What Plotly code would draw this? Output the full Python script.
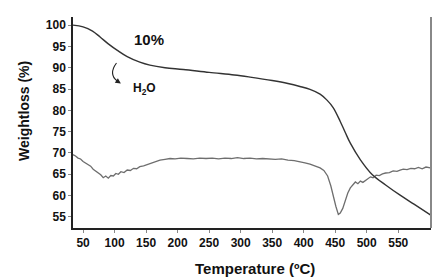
import plotly.graph_objects as go

# TGA curve (weight loss %)
tga_T = [34, 50, 65, 77, 90, 105, 120, 140, 156, 180, 209, 250, 290, 315, 350, 375, 394, 410, 426, 437, 447, 458, 466, 474, 490, 509, 530, 553, 575, 601]
tga_W = [100.0, 99.6, 98.6, 97.2, 95.6, 94.0, 92.6, 91.3, 90.6, 90.0, 89.6, 88.9, 88.3, 87.8, 87.0, 86.3, 85.6, 84.9, 83.8, 82.4, 80.6, 77.4, 74.8, 72.3, 68.4, 64.9, 62.5, 60.1, 58.0, 55.5]

# DTG-like signal (noisy gray trace)
dtg_T = [34, 38, 42, 46, 50, 54, 58, 62, 66, 70, 74, 78, 82, 86, 90, 94, 98, 102, 106, 110, 115, 120, 125, 130, 135, 140, 146, 152, 158, 165, 172, 180, 188, 196, 205, 215, 225, 235, 245, 255, 265, 275, 285, 295, 305, 315, 325, 335, 345, 355, 365, 375, 385, 394, 402, 410, 418, 426, 432, 438, 443, 447, 451, 455, 458, 462, 466, 470, 474, 478, 482, 486, 490, 494, 498, 502, 506, 510, 515, 520, 525, 530, 536, 542, 548, 553, 558, 564, 570, 576, 582, 588, 594, 601]
dtg_V = [69.6, 69.3, 68.8, 68.6, 68.0, 67.6, 67.1, 66.9, 66.2, 65.8, 65.2, 64.9, 64.2, 64.6, 64.1, 64.7, 64.6, 65.2, 65.0, 65.6, 65.4, 66.0, 65.9, 66.4, 66.3, 66.8, 67.0, 67.3, 67.6, 67.9, 68.3, 68.5, 68.7, 68.6, 68.8, 68.7, 68.6, 68.8, 68.7, 68.8, 68.6, 68.8, 68.7, 68.9, 68.7, 68.8, 68.6, 68.7, 68.6, 68.5, 68.6, 68.3, 68.2, 68.0, 67.7, 67.4, 66.9, 66.5, 65.9, 64.6, 62.3, 59.8, 57.5, 55.6, 55.9, 57.0, 58.9, 60.6, 61.8, 62.6, 63.2, 62.8, 63.4, 63.1, 63.6, 63.9, 64.4, 64.2, 64.8, 64.7, 65.1, 65.3, 65.4, 65.8, 65.7, 66.0, 66.2, 66.1, 66.4, 66.3, 66.6, 66.3, 66.7, 66.5]

x_ticks = [50, 100, 150, 200, 250, 300, 350, 400, 450, 500, 550]
y_ticks = [55, 60, 65, 70, 75, 80, 85, 90, 95, 100]

fig = go.Figure()
fig.add_trace(go.Scatter(x=dtg_T, y=dtg_V, mode="lines",
                         line=dict(color="#6e6e6e", width=1.3), showlegend=False))
fig.add_trace(go.Scatter(x=tga_T, y=tga_W, mode="lines", line_shape="spline",
                         line=dict(color="#333333", width=1.4), showlegend=False))

font_b = "Liberation Sans, Arial, sans-serif"

# curved arrow near H2O
fig.add_shape(type="path", xref="x", yref="y",
              path="M 103,91.1 Q 90,88.5 104,86.9",
              line=dict(color="#222222", width=1.1))
fig.add_annotation(x=110, y=86.3, ax=102, ay=87.1, xref="x", yref="y",
                   axref="x", ayref="y", text="", showarrow=True,
                   arrowhead=2, arrowsize=1.0, arrowwidth=1.1, arrowcolor="#222222")

fig.add_annotation(x=155, y=96.6, xref="x", yref="y", text="<b>10%</b>",
                   showarrow=False, font=dict(family=font_b, size=15, color="#111111"))
fig.add_annotation(x=148, y=85.0, xref="x", yref="y", text="<b>H<sub>2</sub>O</b>",
                   showarrow=False, font=dict(family=font_b, size=12, color="#111111"))

# axis titles as annotations for exact placement
fig.add_annotation(x=0.508, y=0, xref="paper", yref="paper", yshift=-40,
                   xanchor="center", yanchor="middle", showarrow=False,
                   text="<b>Temperature (ºC)</b>",
                   font=dict(family=font_b, size=15, color="#111111"))
fig.add_annotation(x=0, y=0.555, xref="paper", yref="paper", xshift=-49,
                   xanchor="center", yanchor="middle", showarrow=False, textangle=-90,
                   text="<b>Weightloss (%)</b>",
                   font=dict(family=font_b, size=14, color="#111111"))

fig.update_layout(
    width=436, height=270,
    margin=dict(l=65, r=13, t=9, b=50),
    paper_bgcolor="white", plot_bgcolor="white",
    font=dict(family=font_b, size=12, color="#111111"),
    xaxis=dict(range=[34, 602], tickvals=x_ticks, ticktext=[f"<b>{v}</b>" for v in x_ticks],
               showgrid=False, zeroline=False, showline=True, linecolor="#222222",
               linewidth=1.5, ticks="outside", ticklen=3, tickcolor="#888888",
               automargin=False, mirror=False),
    yaxis=dict(range=[52.4, 101.9], tickvals=y_ticks, ticktext=[f"<b>{v}</b>" for v in y_ticks],
               showgrid=False, zeroline=False, showline=True, linecolor="#222222",
               linewidth=1.5, ticks="outside", ticklen=3, tickcolor="#888888",
               automargin=False),
)
# right gray border
fig.add_shape(type="line", xref="paper", yref="paper", x0=1, x1=1, y0=0, y1=1,
              line=dict(color="#888888", width=2))

fig.write_html("out.html")
